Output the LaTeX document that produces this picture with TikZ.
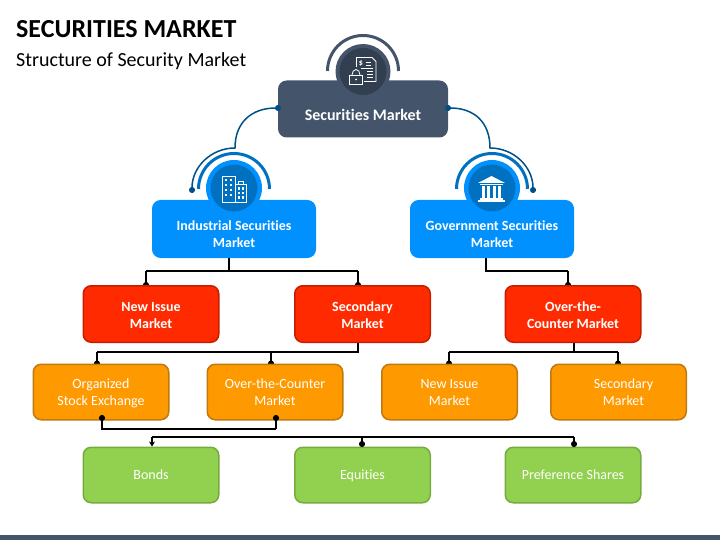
\documentclass[tikz,border=0pt]{standalone}
\usepackage{fontspec}
\setmainfont[Ligatures=NoCommon]{Carlito}
\usetikzlibrary{arrows.meta,backgrounds,calc}
\definecolor{slatedark}{RGB}{68, 84, 106}
\definecolor{slatedeep}{RGB}{50, 63, 81}
\definecolor{skyblue}{RGB}{0, 145, 255}
\definecolor{deepblue}{RGB}{0, 112, 192}
\definecolor{linkblue}{RGB}{0, 80, 136}
\definecolor{redbox}{RGB}{255, 42, 0}
\definecolor{redline}{RGB}{196, 32, 0}
\definecolor{orangebox}{RGB}{255, 153, 0}
\definecolor{orangeline}{RGB}{192, 120, 16}
\definecolor{greenbox}{RGB}{146, 208, 80}
\definecolor{greenline}{RGB}{118, 172, 62}
\tikzset{
  box/.style={rounded corners=8pt, align=center, text=white, inner sep=0pt, line width=1.5pt, text depth=4pt},
  topbox/.style={box, fill=slatedark, draw=slatedark, minimum width=168.5pt, minimum height=55.5pt, font=\fontsize{16}{17}\selectfont\bfseries, text height=28pt},
  bluebox/.style={box, fill=skyblue, draw=skyblue, minimum width=162.5pt, minimum height=56.5pt, font=\fontsize{14}{17}\selectfont\bfseries, text height=41pt},
  rednode/.style={box, fill=redbox, draw=redline, minimum width=135.5pt, minimum height=56.5pt, font=\fontsize{14}{17}\selectfont\bfseries, text height=32pt},
  orangenode/.style={box, fill=orangebox, draw=orangeline, minimum width=135.5pt, minimum height=55.5pt, font=\fontsize{14}{17}\selectfont, text height=31pt},
  greennode/.style={box, fill=greenbox, draw=greenline, minimum width=135.5pt, minimum height=55.5pt, font=\fontsize{14}{17}\selectfont, text height=13pt},
  elbow/.style={line width=1.6pt, black},
  halfdot/.style={elbow, -{Circle[length=6pt]}, shorten >=-3pt},
  startdot/.style={elbow, {Circle[length=6pt]}-, shorten <=-3pt},
  curvelink/.style={line width=1.5pt, linkblue, {Circle[length=6pt]}-{Circle[length=6pt]}, shorten <=-3pt, shorten >=-3pt},
  ringarc/.style={line width=3pt},
  icon/.style={white, line width=0.8pt}
}
\begin{document}
\begin{tikzpicture}[x=1pt, y=-1pt]
    \useasboundingbox (0,0) rectangle (720,540);

    % Footer
    \fill[slatedark] (0,535) rectangle (720,540);

    % Title
    \node[anchor=west, inner sep=0pt, font=\fontsize{26}{28}\selectfont\bfseries] (title) at (16,29) {SECURITIES MARKET};
    \node[anchor=west, inner sep=0pt, font=\fontsize{20}{22}\selectfont] (subtitle) at (16,61.5) {Structure of Security Market};

    % Boxes
    \node[topbox] (sm) at (363,109) {Securities Market};
    \node[bluebox] (ind) at (234,229) {Industrial Securities\\Market};
    \node[bluebox] (gov) at (492,229) {Government Securities\\Market};

    \node[rednode] (newred) at (151,314) {New Issue\\Market};
    \node[rednode] (secred) at (362.5,314) {Secondary\\Market};
    \node[rednode] (otcred) at (573,314) {Over-the-\\Counter Market};

    \node[orangenode] (org) at (101,392) {Organized\\Stock Exchange};
    \node[orangenode] (otc) at (275,392) {Over-the-Counter\\Market};
    \node[orangenode] (newor) at (449.5,392) {New Issue\\Market};
    \node[orangenode] (secor) at (618.5,392) {\hspace{10pt}Secondary\\\hspace{10pt}Market};

    \node[greennode] (bonds) at (151,475) {Bonds};
    \node[greennode] (equi) at (362.5,475) {Equities};
    \node[greennode] (pref) at (573,475) {Preference Shares};

    % Badges
    \fill[slatedark] (363,71.5) circle (27.5);
    \fill[slatedeep] (363,71.5) circle (23.5);
    \draw[ringarc, slatedark] (327.5,71) arc (180:360:35.5);
    \fill[skyblue] (234,188) circle (28);
    \fill[deepblue] (234,188) circle (23.5);
    \draw[ringarc, deepblue] (198.5,189) arc (180:360:35.5);
    \fill[skyblue] (492,188) circle (28);
    \fill[deepblue] (492,188) circle (23.5);
    \draw[ringarc, deepblue] (456.5,189) arc (180:360:35.5);

    % Icons
    \draw[icon] (358,57.5) -- (372,57.5) -- (376,61.5) -- (376,81.5) -- (364,81.5);
    \draw[icon] (356.5,67) -- (356.5,57.5) -- (358,57.5);
    \draw[icon] (366,62) -- (371,62) (366,65) -- (371,65) (361,68) -- (373,68) (367,71) -- (373,71) (367,74) -- (373,74) (367,77) -- (373,77);
    \node[white, inner sep=0pt, font=\fontsize{8}{8}\selectfont\bfseries] (dollar) at (361,63) {\$};
    \draw[icon, fill=slatedeep] (349.5,75) rectangle (362.5,84);
    \draw[icon] (352,75) arc (180:360:4 and 5.5);
    \fill[white] (356,79.5) circle (1);

    \draw[icon] (222,176) rectangle (235,202);
    \draw[icon] (235,184) -- (246,184) -- (246,202) -- (222,202);
    \draw[icon] (238,184) -- (238,181) -- (243,181) -- (243,184);
    \foreach \px in {225,229.5}
      \foreach \py in {179,184,189,194}
        \fill[white] (\px,\py) rectangle +(2.4,2.4);
    \foreach \px in {237.5,241.5}
      \foreach \py in {187.5,192,196.5}
        \fill[white] (\px,\py) rectangle +(2.4,2.4);

    \fill[white] (478,183) -- (491.5,176) -- (505,183) -- cycle;
    \fill[white] (480,198.5) rectangle (503,200);
    \fill[white] (478,200.5) rectangle (505,202);
    \fill[white] (480,184) rectangle (503,185.5);
    \foreach \px in {481.5,487,492.5,498}
      \fill[white] (\px,186.5) rectangle +(3,11.5);

    % Curved links
    \coordinate (lfoot) at (192,190);
    \coordinate (rfoot) at (533,190);
    \draw[curvelink] (sm.west |- 0,108) .. controls (252,108) and (235,122) .. (235,148) arc (270:180:43 and 42);
    \draw[curvelink] (sm.east |- 0,108) .. controls (474,108) and (490,122) .. (490,148) arc (270:360:43 and 42);

    % Connectors
    \begin{scope}[on background layer]
      \draw[elbow] (ind.south -| 229,0) -- (229,271) -- (146,271);
      \draw[halfdot] (146,271) -- (newred.north -| 146,0);
      \draw[elbow] (229,271) -- (358,271);
      \draw[halfdot] (358,271) -- (secred.north -| 358,0);
      \draw[elbow] (gov.south -| 486,0) -- (486,271) -- (568,271);
      \draw[halfdot] (568,271) -- (otcred.north -| 568,0);

      \draw[elbow] (secred.south -| 358,0) -- (358,352) -- (97,352);
      \draw[halfdot] (97,352) -- (org.north -| 97,0);
      \draw[halfdot] (271,352) -- (otc.north -| 271,0);
      \draw[elbow] (otcred.south -| 574,0) -- (574,352) -- (449,352);
      \draw[halfdot] (449,352) -- (newor.north -| 449,0);
      \draw[elbow] (574,352) -- (618,352);
      \draw[halfdot] (618,352) -- (secor.north -| 618,0);
    \end{scope}

    \coordinate (orgdot) at (102,418);
    \coordinate (otcdot) at (276,418);
    \draw[startdot] (orgdot) -- (102,429) -- (276,429);
    \draw[startdot] (otcdot) -- (276,429);
    \draw[elbow] (152,437) -- (574,437);
    \draw[elbow, -{Stealth[length=5pt, width=6pt]}] (152,437) -- (bonds.north -| 152,0);
    \draw[elbow, -{Circle[length=6pt]}] (362,437) -- (362,447);
    \draw[elbow, -{Circle[length=6pt]}] (574,437) -- (574,447);
\end{tikzpicture}
\end{document}
